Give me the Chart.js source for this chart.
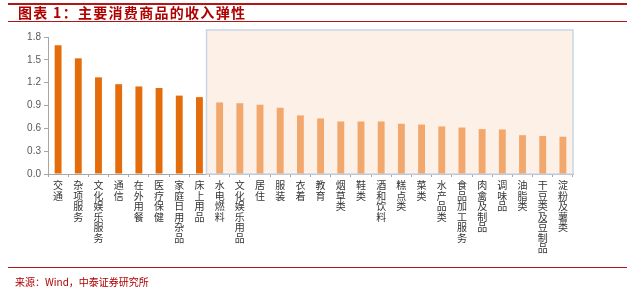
<!DOCTYPE html>
<html>
<head>
<meta charset="utf-8">
<script src="https://cdn.jsdelivr.net/npm/chart.js@4/dist/chart.umd.min.js"></script>
<style>
    html, body { margin: 0; padding: 0; background: #fff; }
    #wrap { position: relative; width: 640px; height: 293px; }
    #chart { position: absolute; left: 0; top: 0; }
    .rule { position: absolute; left: 8px; width: 619px; background: #b01818; }
    #title { position: absolute; left: 18px; top: 4px; font: bold 14px "Noto Sans CJK SC", sans-serif; letter-spacing: 1.3px; color: #b00000; line-height: 17px; }
    #source { position: absolute; left: 15px; top: 275px; font: 10px "Noto Sans CJK SC", sans-serif; color: #b00000; line-height: 14px; }
</style>
</head>
<body>
<div id="wrap">
    <canvas id="chart" width="640" height="293"></canvas>
    <div class="rule" style="top:3px;height:2px;"></div>
    <div id="title">图表 1：主要消费商品的收入弹性</div>
    <div class="rule" style="top:21px;height:1px;"></div>
    <div class="rule" style="top:267px;height:1px;"></div>
    <div id="source">来源：Wind，中泰证券研究所</div>
</div>
<script>
// Chart data
const categories = ['交通', '杂项服务', '文化娱乐服务', '通信', '在外用餐', '医疗保健', '家庭日用杂品', '床上用品',
    '水电燃料', '文化娱乐用品', '居住', '服装', '衣着', '教育', '烟草类', '鞋类', '酒和饮料', '糕点类', '菜类',
    '水产品类', '食品加工服务', '肉禽及制品', '调味品', '油脂类', '干豆类及豆制品', '淀粉及薯类'];
const elasticity = [1.69, 1.52, 1.27, 1.18, 1.15, 1.13, 1.03, 1.01,
    0.94, 0.93, 0.91, 0.87, 0.77, 0.73, 0.69, 0.69, 0.69, 0.66, 0.65,
    0.625, 0.61, 0.59, 0.585, 0.51, 0.50, 0.49];
const highCount = 8; // first bars are drawn in the darker colour
const yTicks = [0, 0.3, 0.6, 0.9, 1.2, 1.5, 1.8];

const darkOrange = '#e46c0a';
const lightOrange = '#f2a76d';

// Shaded box behind the lower-elasticity group
const boxPlugin = {
    id: 'lowBox',
    beforeDatasetsDraw(chart) {
        const x = chart.scales.x;
        const area = chart.chartArea;
        const step = x.getPixelForValue(1) - x.getPixelForValue(0);
        const left = x.getPixelForValue(highCount - 1) + step * 0.35;
        const ctx = chart.ctx;
        ctx.save();
        ctx.fillStyle = '#fdf0e7';
        ctx.fillRect(left, area.top - 7, area.right - left, area.bottom - area.top + 7);
        ctx.strokeStyle = '#c8d6e8';
        ctx.lineWidth = 1.5;
        ctx.strokeRect(left, area.top - 7, area.right - left, area.bottom - area.top + 7);
        ctx.restore();
    }
};

const ctx = document.getElementById('chart').getContext('2d');
new Chart(ctx, {
    type: 'bar',
    data: {
        labels: categories.map(c => c.split('')),
        datasets: [{
            data: elasticity,
            backgroundColor: elasticity.map((v, i) => i < highCount ? darkOrange : lightOrange),
            barPercentage: 0.34,
            categoryPercentage: 1
        }]
    },
    options: {
        responsive: false,
        animation: false,
        layout: { padding: { left: 0, right: 67, top: 37, bottom: 0 } },
        plugins: { legend: { display: false }, tooltip: { enabled: false } },
        scales: {
            y: {
                min: 0,
                max: 1.8,
                afterBuildTicks: function(scale) {
                    scale.ticks = yTicks.map(v => ({ value: v }));
                },
                afterFit: function(scale) { scale.width = 48; },
                ticks: {
                    color: '#595959',
                    padding: 3,
                    font: { family: 'Liberation Sans', size: 10 },
                    callback: v => v.toFixed(1)
                },
                grid: { drawOnChartArea: false, drawTicks: true, tickLength: 4, color: '#a6a6a6' },
                border: { color: '#a6a6a6' }
            },
            x: {
                afterFit: function(scale) { scale.height = 119; },
                ticks: {
                    color: '#333333',
                    maxRotation: 0,
                    autoSkip: false,
                    padding: 3,
                    font: { family: 'Noto Sans CJK SC', size: 10, lineHeight: 1.05 }
                },
                grid: { offset: true, drawOnChartArea: false, drawTicks: true, tickLength: 3, color: '#a6a6a6' },
                border: { color: '#a6a6a6' }
            }
        }
    },
    plugins: [boxPlugin]
});
</script>
</body>
</html>
